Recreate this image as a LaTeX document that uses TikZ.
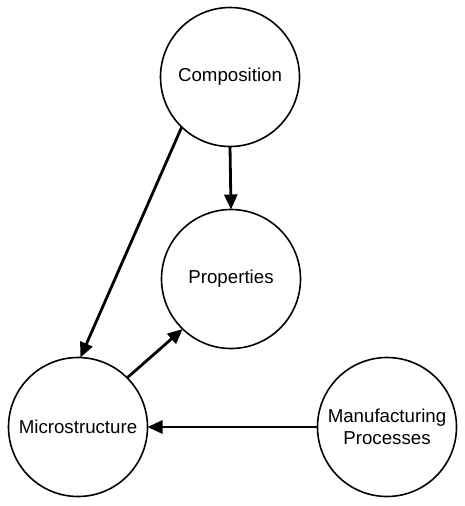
\documentclass[tikz,border=0pt]{standalone}
\usepackage{fontspec}
\setmainfont{Liberation Sans}
\usetikzlibrary{arrows.meta}
\begin{document}
\begin{tikzpicture}[x = 1pt, y = -1pt,
		topic/.style = {circle, draw, line width = 1.6pt, minimum size = 139pt, inner sep = 0pt, outer sep = 0pt, align = center, font = \fontsize{18.7}{22.5}\selectfont},
		link/.style = {line width = 2.8pt, -{Triangle[length = 15pt, width = 13pt]}}]
	\useasboundingbox (0, 0) rectangle (465, 506);
	% Nodes
	\node[topic] (comp) at (230, 77) {Composition};
	\node[topic] (prop) at (231, 279) {Properties};
	\node[topic] (micro) at (78, 427) {Microstructure};
	\node[topic] (manu) at (387, 427) {Manufacturing\\Processes};
	
	% Edges
	\draw[link] (comp.south) to (prop.north);
	\draw[link] (comp.226) to (micro.88);
	\draw[link] (micro.45) to (prop.226);
	\draw[link] (manu.west) to (micro.east);
\end{tikzpicture}
\end{document}
